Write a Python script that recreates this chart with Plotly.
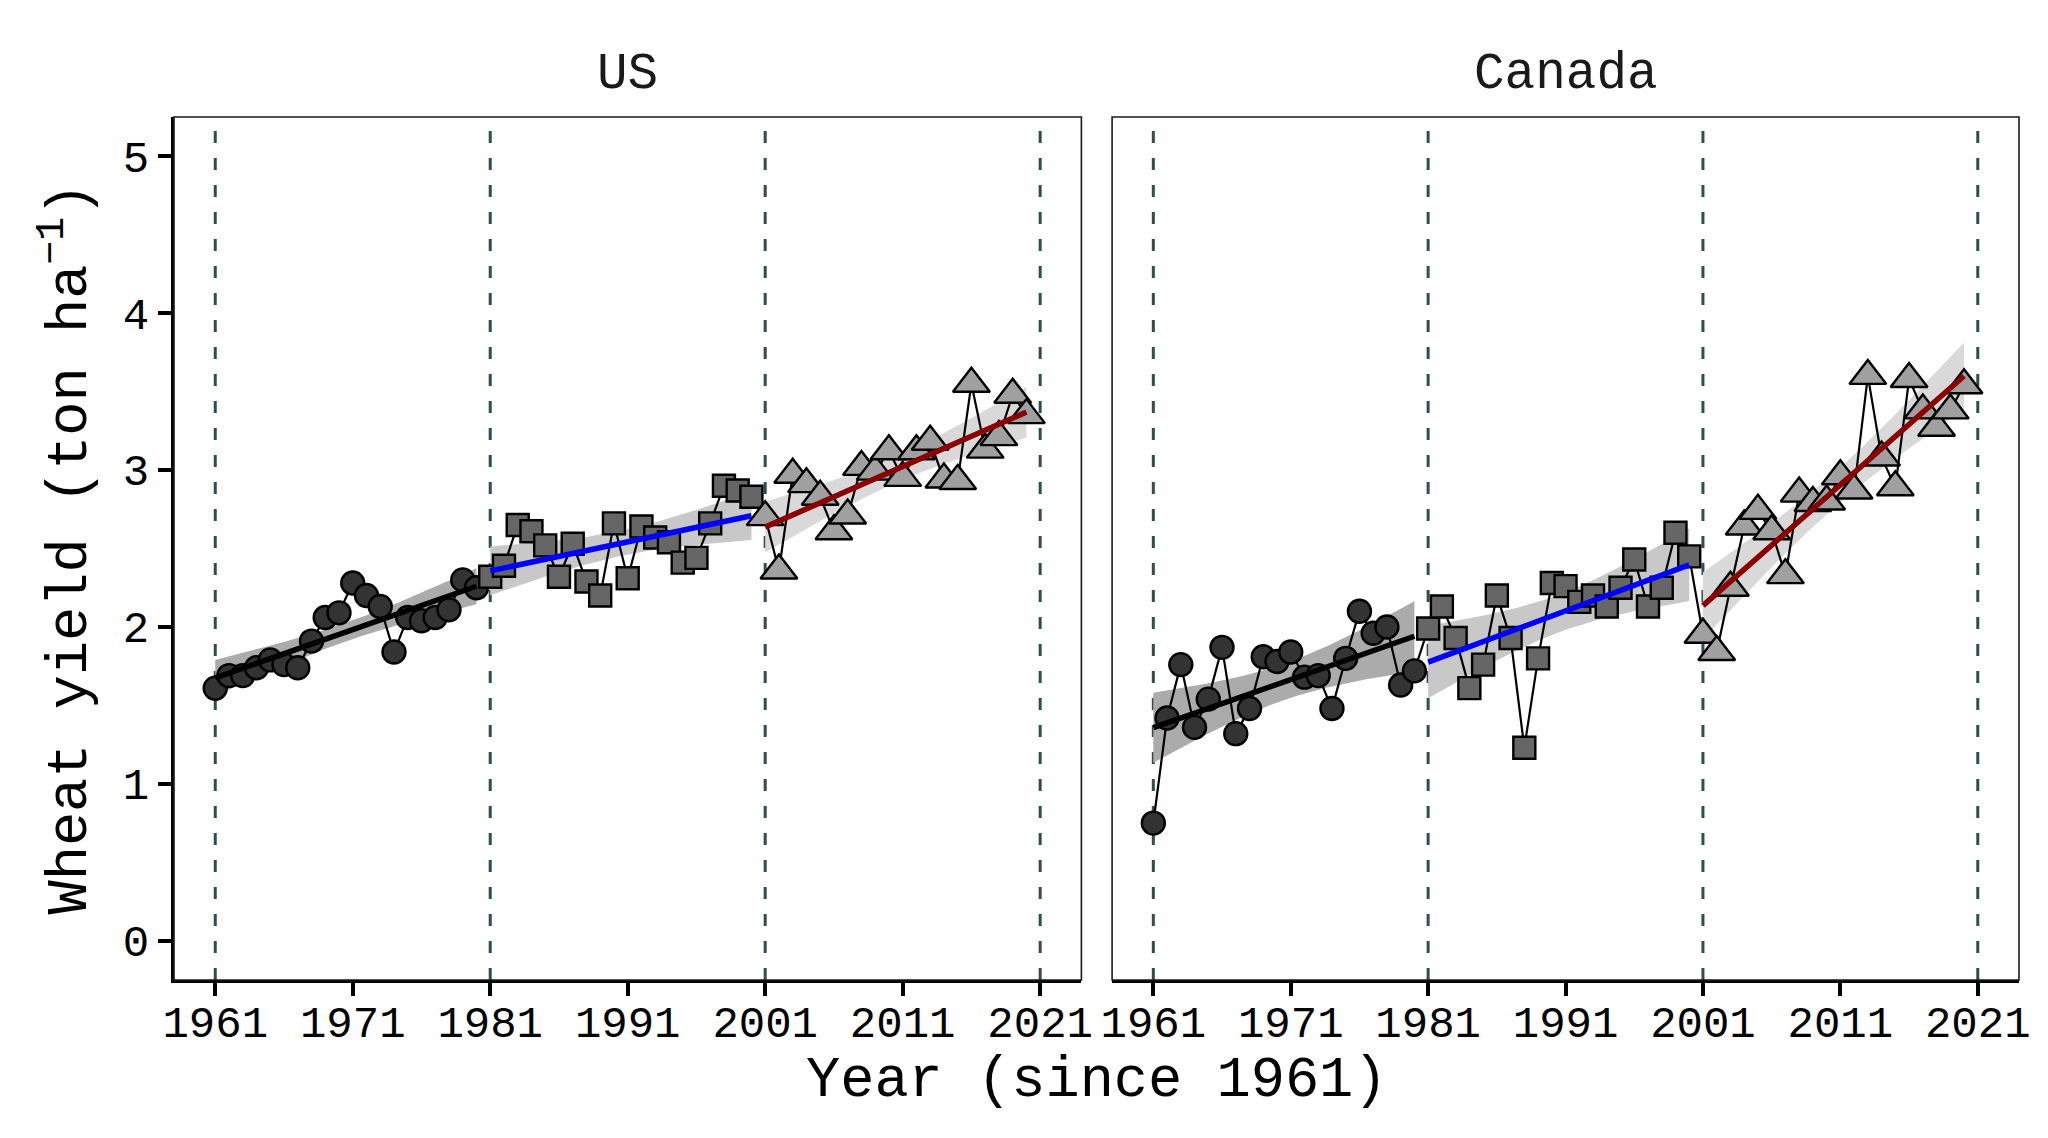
import numpy as np
import plotly.graph_objects as go
from plotly.subplots import make_subplots

years = list(range(1961, 2021))

us_yield = [
    1.61, 1.69, 1.69, 1.74, 1.79, 1.76, 1.74, 1.91, 2.06, 2.09,
    2.28, 2.20, 2.13, 1.84, 2.06, 2.04, 2.06, 2.11, 2.30, 2.25,
    2.32, 2.39, 2.65, 2.61, 2.52, 2.32, 2.53, 2.29, 2.20, 2.66,
    2.31, 2.64, 2.57, 2.54, 2.41, 2.44, 2.66, 2.90, 2.87, 2.83,
    2.70, 2.36, 2.97, 2.91, 2.83, 2.61, 2.71, 3.02, 2.99, 3.12,
    2.95, 3.12, 3.18, 2.94, 2.93, 3.55, 3.13, 3.21, 3.48, 3.35,
]
canada_yield = [
    0.75, 1.42, 1.76, 1.36, 1.54, 1.87, 1.32, 1.48, 1.81, 1.78,
    1.84, 1.68, 1.69, 1.48, 1.80, 2.10, 1.96, 2.00, 1.63, 1.72,
    1.99, 2.13, 1.93, 1.61, 1.76, 2.20, 1.93, 1.23, 1.80, 2.28,
    2.26, 2.16, 2.20, 2.13, 2.25, 2.43, 2.13, 2.25, 2.60, 2.45,
    1.95, 1.84, 2.25, 2.64, 2.74, 2.61, 2.33, 2.85, 2.79, 2.80,
    2.96, 2.87, 3.60, 3.08, 2.89, 3.58, 3.38, 3.27, 3.38, 3.54,
]

countries = ["US", "Canada"]
periods = [(1961, 1980), (1981, 2000), (2001, 2020)]
period_symbols = ["circle", "square", "triangle-up"]
period_sizes = [23, 22, 32]
period_fills = ["#333333", "#666666", "#a0a0a0"]
fit_colors = ["#000000", "#0000ff", "#8b0000"]
ribbon_fills = ["#ababab", "#c8c8c8", "#d9d9d9"]
vline_years = [1961, 1981, 2001, 2021]
x_ticks = [1961, 1971, 1981, 1991, 2001, 2011, 2021]
y_ticks = [0, 1, 2, 3, 4, 5]

T_CRIT = 2.100922  # t(0.975, df=18)
FONT = "Liberation Mono"

# page body has an 8px margin, so the figure is laid out 8px in from the window edge
FIG_W, FIG_H = 2032, 1122
MARGIN = {"l": 166, "r": 20.6, "t": 109.3, "b": 150}
PLOT_W = FIG_W - MARGIN["l"] - MARGIN["r"]
PLOT_H = FIG_H - MARGIN["t"] - MARGIN["b"]
PLOT_BOTTOM = FIG_H - MARGIN["b"]


def lm_band(x, y, n_grid=80):
    x = np.asarray(x, float)
    y = np.asarray(y, float)
    slope, intercept = np.polyfit(x, y, 1)
    grid = np.linspace(x.min(), x.max(), n_grid)
    fit = intercept + slope * grid
    resid = y - (intercept + slope * x)
    s = np.sqrt(np.sum(resid ** 2) / (len(x) - 2))
    se = s * np.sqrt(1 / len(x) + (grid - x.mean()) ** 2 / np.sum((x - x.mean()) ** 2))
    return grid, fit, fit - T_CRIT * se, fit + T_CRIT * se


fig = make_subplots(rows=1, cols=2, shared_yaxes=True)

for col, (country, values) in enumerate(zip(countries, [us_yield, canada_yield]), start=1):
    fits = []
    for i, (start, end) in enumerate(periods):
        xs = [yr for yr in years if start <= yr <= end]
        ys = [v for yr, v in zip(years, values) if start <= yr <= end]
        grid, fit, lo, hi = lm_band(xs, ys)
        fits.append((xs, ys, grid, fit))
        fig.add_trace(
            go.Scatter(
                x=list(grid) + list(grid[::-1]),
                y=list(hi) + list(lo[::-1]),
                fill="toself",
                fillcolor=ribbon_fills[i],
                line={"width": 0},
                mode="lines",
                hoverinfo="skip",
                showlegend=False,
            ),
            row=1,
            col=col,
        )

    fig.add_trace(
        go.Scatter(
            x=years,
            y=values,
            mode="lines",
            line={"color": "#000000", "width": 2.2},
            showlegend=False,
        ),
        row=1,
        col=col,
    )

    for i, (xs, ys, grid, fit) in enumerate(fits):
        fig.add_trace(
            go.Scatter(
                x=xs,
                y=ys,
                mode="markers",
                marker={
                    "symbol": period_symbols[i],
                    "size": period_sizes[i],
                    "color": period_fills[i],
                    "line": {"color": "#000000", "width": 2.4},
                },
                showlegend=False,
            ),
            row=1,
            col=col,
        )

    for i, (xs, ys, grid, fit) in enumerate(fits):
        fig.add_trace(
            go.Scatter(
                x=grid,
                y=fit,
                mode="lines",
                line={"color": fit_colors[i], "width": 5.5},
                showlegend=False,
            ),
            row=1,
            col=col,
        )

shapes = []
for xref, yref in (("x", "y"), ("x2", "y2")):
    for yr in vline_years:
        shapes.append(
            dict(
                type="line", xref=xref, yref=f"{yref} domain",
                x0=yr, x1=yr, y0=0, y1=1, layer="below",
                line={"color": "#2f4f4f", "width": 3, "dash": "12px,15px"},
            )
        )
    shapes.append(
        dict(
            type="rect", xref=f"{xref} domain", yref=f"{yref} domain",
            x0=0, x1=1, y0=0, y1=1, layer="above",
            line={"color": "#1a1a1a", "width": 1.6},
        )
    )

annotations = [
    dict(text=country, x=0.5, y=(PLOT_BOTTOM - 67) / PLOT_H, xref=f"{xr} domain", yref="paper",
         showarrow=False, xanchor="center", yanchor="middle",
         font={"family": FONT, "size": 51, "color": "#1a1a1a"})
    for country, xr in zip(countries, ["x", "x2"])
]
annotations.append(
    dict(text="Year (since 1961)", x=0.5, y=(PLOT_BOTTOM - 1073) / PLOT_H, xref="paper", yref="paper",
         showarrow=False, xanchor="center", yanchor="middle",
         font={"family": FONT, "size": 57, "color": "#000000"})
)
annotations.append(
    dict(text="Wheat yield (ton ha<sup>\u22121</sup>)", x=(58 - MARGIN["l"]) / PLOT_W, y=0.5,
         xref="paper", yref="paper", textangle=-90,
         showarrow=False, xanchor="center", yanchor="middle",
         font={"family": FONT, "size": 57, "color": "#000000"})
)

axis_style = dict(
    showgrid=False, zeroline=False, showline=True, linecolor="#000000", linewidth=3,
    ticks="outside", ticklen=13, tickwidth=4, tickcolor="#000000", automargin=False,
    tickfont={"family": FONT, "size": 44, "color": "#000000"},
)

fig.update_xaxes(range=[1958, 2024], tickvals=x_ticks, ticklabelstandoff=-12, **axis_style)
fig.update_layout(
    xaxis={"domain": [0, 907.6 / PLOT_W]},
    xaxis2={"domain": [938.3 / PLOT_W, 1]},
)
fig.update_yaxes(range=[-0.25, 5.25], tickvals=y_ticks, **axis_style, row=1, col=1)
fig.update_yaxes(range=[-0.25, 5.25], showgrid=False, zeroline=False, showline=False,
                 ticks="", showticklabels=False, row=1, col=2)

fig.update_layout(
    width=FIG_W,
    height=FIG_H,
    margin={**MARGIN, "autoexpand": False},
    plot_bgcolor="#ffffff",
    paper_bgcolor="#ffffff",
    showlegend=False,
    shapes=shapes,
    annotations=annotations,
    font={"family": FONT},
)

fig.write_html("out.html")
